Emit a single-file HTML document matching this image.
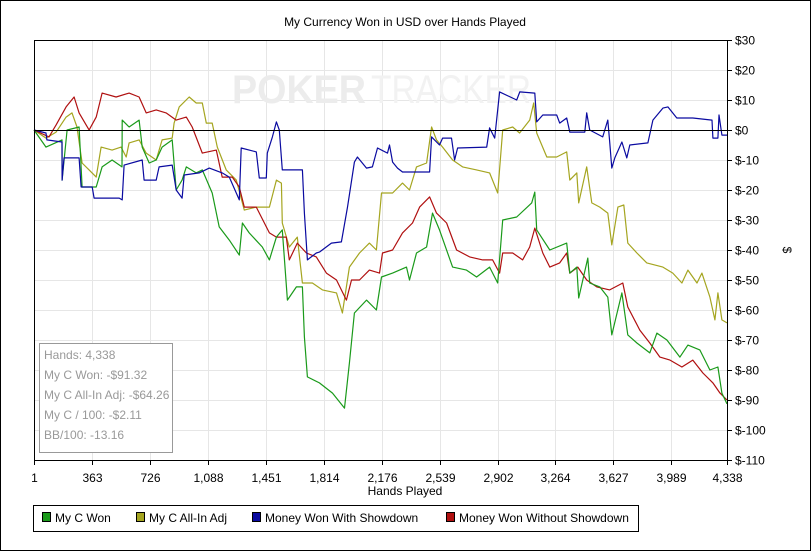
<!DOCTYPE html>
<html><head><meta charset="utf-8"><style>
html,body{margin:0;padding:0;background:#fff}
svg{display:block;font-family:"Liberation Sans",Arial,sans-serif}
</style></head><body>
<svg id="chart" width="811" height="551" viewBox="0 0 811 551" xmlns="http://www.w3.org/2000/svg">
<rect x="0.5" y="0.5" width="810" height="550" fill="#fff" stroke="#000"/>
<text x="405" y="26" text-anchor="middle" font-size="12" fill="#000">My Currency Won in USD over Hands Played</text>
<g id="grid"></g>
<g><text x="232" y="103" font-size="40" font-weight="bold" fill="#ececec" textLength="134" lengthAdjust="spacingAndGlyphs">POKER</text><text x="371" y="103" font-size="40" fill="#f2f2f2" textLength="160" lengthAdjust="spacingAndGlyphs">TRACKER</text></g>
<g id="series"></g>
<g id="axes"></g>
<text x="405" y="495" text-anchor="middle" font-size="12">Hands Played</text>
<text transform="translate(783,250) rotate(90)" text-anchor="middle" font-size="12">$</text>
<g>
<rect x="39.5" y="343.5" width="133" height="109" fill="#fff" stroke="#999"/>
<g font-size="12" fill="#999">
<text x="44" y="359">Hands: 4,338</text>
<text x="44" y="379">My C Won: -$91.32</text>
<text x="44" y="399">My C All-In Adj: -$64.26</text>
<text x="44" y="419">My C / 100: -$2.11</text>
<text x="44" y="439">BB/100: -13.16</text>
</g></g>
<g>
<rect x="33.5" y="505.5" width="605" height="26" fill="#fff" stroke="#000"/>
<g font-size="12">
<g><rect x="42.5" y="512.5" width="8" height="9" fill="#1a9a1a" stroke="#000"/><text x="55" y="522">My C Won</text></g>
<g><rect x="136.5" y="512.5" width="8" height="9" fill="#a5a520" stroke="#000"/><text x="149" y="522">My C All-In Adj</text></g>
<g><rect x="252.5" y="512.5" width="8" height="9" fill="#0a0aa0" stroke="#000"/><text x="265" y="522">Money Won With Showdown</text></g>
<g><rect x="446.5" y="512.5" width="8" height="9" fill="#b01010" stroke="#000"/><text x="459" y="522">Money Won Without Showdown</text></g>
</g></g>
</svg>
<script>
const xTicks = [1,363,726,1088,1451,1814,2176,2539,2902,3264,3627,3989,4338];
const xTickLabels = ["1","363","726","1,088","1,451","1,814","2,176","2,539","2,902","3,264","3,627","3,989","4,338"];
const yTicks = [30,20,10,0,-10,-20,-30,-40,-50,-60,-70,-80,-90,-100,-110];
const yTickLabels = ["$30","$20","$10","$0","$-10","$-20","$-30","$-40","$-50","$-60","$-70","$-80","$-90","$-100","$-110"];

const greenHands = [1,76,176,177,208,283,302,390,427,490,552,553,596,659,678,722,766,803,866,891,928,954,1016,1054,1116,1160,1223,1286,1305,1348,1430,1474,1518,1555,1587,1643,1681,1693,1712,1787,1869,1944,1975,2006,2082,2144,2176,2245,2332,2351,2395,2458,2495,2539,2621,2708,2771,2852,2903,2934,3022,3116,3135,3147,3229,3335,3354,3398,3410,3467,3479,3542,3592,3617,3680,3717,3774,3855,3899,3962,4043,4093,4168,4231,4281,4306,4338];
const greenValues = [0,-5.7,-3.3,-16.7,0,1,-19,-19,-12.3,-10,-12.3,3.3,1,3.3,-5.7,-11,-10,-5.7,-3.3,-20,-16.7,-12.3,-14.3,-13.3,-21,-32.3,-36.7,-41.7,-31,-34.3,-39,-43.3,-35.7,-33.3,-56.7,-52.3,-52.3,-69,-82.3,-84.3,-87.7,-92.7,-77.7,-61,-56.7,-60,-49,-47.7,-45.7,-50,-41,-39,-27.7,-33.3,-45.7,-46.7,-49,-45.7,-51,-30,-29,-24.3,-20.7,-33.3,-40,-37.7,-47.7,-45.7,-56,-42.7,-51,-52.3,-55.7,-68.3,-54.3,-68.3,-71,-74.3,-67.7,-70,-75.7,-71.7,-73.3,-80,-79,-87.7,-91.3];

const yellowHands = [1,76,139,202,239,270,302,346,390,421,490,546,578,596,659,703,766,803,866,878,910,972,1016,1054,1079,1116,1148,1204,1267,1317,1392,1474,1518,1549,1555,1599,1649,1681,1743,1806,1894,1931,1975,2038,2100,2144,2176,2245,2307,2351,2395,2458,2489,2520,2558,2621,2683,2771,2852,2903,2934,2997,3040,3103,3128,3147,3210,3272,3335,3354,3398,3410,3460,3492,3542,3592,3617,3655,3692,3717,3774,3836,3937,3999,4056,4093,4150,4181,4231,4262,4281,4306,4338];
const yellowValues = [0,-2.7,-0.7,4.3,5.7,1,-11,-13.3,-15.7,-5.7,-6.7,-5.7,-9,-4.3,-3.3,-7.7,-10,-3.3,-2.7,2.3,7.7,11,9,9,2.3,2.3,-5.7,-13.3,-16.7,-26.7,-25.7,-25.7,-16.7,-17.7,-31,-39,-35.7,-51,-51,-53.3,-54.3,-61,-45.7,-41,-37.7,-40,-21,-21,-17.7,-20,-12.3,-11,1,-3.3,-5.7,-10,-12.3,-13.3,-14.3,-21,0,1,-1,3.3,9,-1,-9,-9,-7.3,-16.7,-14.3,-24.3,-12.3,-24.3,-25.7,-27.7,-38.3,-25.7,-25,-37.7,-41,-44.3,-45.7,-47.7,-51,-46.7,-51,-47.7,-55.7,-63.3,-54.3,-63.3,-64.3];

const blueHands = [1,76,82,176,177,189,283,296,365,377,534,553,565,678,690,766,784,866,891,928,941,1035,1098,1179,1223,1286,1298,1392,1411,1455,1461,1493,1518,1536,1555,1681,1693,1712,1768,1787,1862,1925,1963,2006,2025,2082,2119,2151,2213,2226,2245,2276,2307,2477,2489,2539,2558,2614,2633,2652,2834,2852,2884,2915,3022,3041,3135,3147,3185,3272,3291,3335,3354,3417,3448,3460,3479,3560,3592,3604,3617,3636,3680,3711,3730,3843,3874,3937,3968,4024,4124,4244,4250,4281,4288,4306,4338];
const blueValues = [0,-1,-3.3,-4,-16.7,-9.3,-9.3,-19,-19,-22.7,-22.7,-23.3,-11.7,-10,-16.7,-16.7,-12.3,-11.7,-20,-22.7,-15,-14.3,-12.7,-14.3,-15.7,-23.3,-6,-7.3,-16,-16,-7.7,-2.3,2.7,0,-13.3,-13.3,-27.7,-43.3,-41,-40.7,-37.7,-37.3,-25.7,-10.7,-9,-12.7,-12.3,-6,-7.7,-5,-10.7,-12.7,-14,-14,-2.3,-5,-2.7,-2.7,-10,-6,-5.7,0.7,-2.7,12.7,10,12.7,12.3,2.7,5,5,2.3,4,-0.7,-0.7,-0.7,5.7,0,-2.3,3.3,-4,-12.7,-9.3,-4,-9.3,-5,-4.3,3.3,7.3,7.7,4,4,3.3,-2.7,-2.7,5,-1.7,-1.7];

const redHands = [1,95,139,202,252,283,346,390,427,515,596,659,703,766,828,891,954,991,1054,1142,1179,1242,1286,1317,1392,1474,1518,1580,1599,1649,1706,1768,1831,1894,1956,1988,2038,2100,2163,2182,2245,2307,2370,2414,2477,2520,2583,2646,2727,2809,2871,2915,2934,2997,3059,3103,3135,3185,3229,3291,3335,3354,3404,3460,3523,3604,3686,3717,3792,3855,3918,3981,4056,4124,4187,4250,4294,4338];
const redValues = [0,-2.3,1.7,7.7,11,5.7,0,4.3,12.3,11,12.3,11,5.7,6.7,5.7,3.3,4.3,1,-7.7,-6.7,-15.7,-15.7,-19,-25.7,-25.7,-34.3,-35.7,-35.7,-43.3,-37.7,-41,-42.3,-47.7,-50,-56.7,-50,-50,-46.7,-47.7,-41,-40,-34.3,-31,-25.7,-22.3,-27.7,-31,-40,-42.3,-43.3,-43.3,-47.7,-41,-41,-43.3,-39,-32.7,-41,-45.7,-44.3,-41,-47.7,-45.7,-50,-52.3,-53.3,-51,-59,-66.7,-71,-75.7,-76.7,-79,-76.7,-81,-84.3,-87.7,-90];

const NS = "http://www.w3.org/2000/svg";
const L = 34, R = 727, T = 40, B = 460;
const xMin = 1, xMax = 4338, yMin = -110, yMax = 30;
function xs(h){ return L + (h - xMin) / (xMax - xMin) * (R - L); }
function ys(v){ return T + (yMax - v) / (yMax - yMin) * (B - T); }
function mk(tag, attrs, parent){ const e = document.createElementNS(NS, tag); for (const k in attrs) e.setAttribute(k, attrs[k]); parent.appendChild(e); return e; }

const grid = document.getElementById('grid');
const axes = document.getElementById('axes');
xTicks.forEach((t, i) => {
  const x = Math.round(xs(t)) + 0.5;
  const gl = mk('line', {x1:x, x2:x, y1:T, y2:B, stroke:'#e6e6e6'}, grid);
  
  
  const tk = mk('line', {x1:x, x2:x, y1:B, y2:B+5, stroke:'#000'}, axes);
  
  
  const lb = mk('text', {x:x, y:B+22, 'text-anchor':'middle', 'font-size':12}, axes);
  lb.textContent = xTickLabels[i];
  
  
});
yTicks.forEach((t, i) => {
  const y = Math.round(ys(t)) + 0.5;
  const gl = mk('line', {x1:L, x2:R, y1:y, y2:y, stroke:'#e6e6e6'}, grid);
  
  
  const tk = mk('line', {x1:R, x2:R+5, y1:y, y2:y, stroke:'#000'}, axes);
  
  
  const lb = mk('text', {x:R+8, y:y+4, 'font-size':12}, axes);
  lb.textContent = yTickLabels[i];
  
  
});
const frame = mk('rect', {x:L+0.5, y:T+0.5, width:R-L, height:B-T, fill:'none', stroke:'#000'}, axes);


const zl = mk('line', {x1:L, x2:R, y1:Math.round(ys(0))+0.5, y2:Math.round(ys(0))+0.5, stroke:'#000'}, axes);



const sg = document.getElementById('series');
function drawLine(hands, vals, color, name){
  const d = hands.map((h, i) => (i ? 'L' : 'M') + xs(h).toFixed(1) + ' ' + ys(vals[i]).toFixed(1)).join(' ');
  const p = mk('path', {d:d, fill:'none', stroke:color, 'stroke-width':1.2, 'stroke-linejoin':'round'}, sg);
  
  
}
drawLine(yellowHands, yellowValues, '#a5a520', 'series-all-in-adj');
drawLine(redHands, redValues, '#b01010', 'series-without-showdown');
drawLine(greenHands, greenValues, '#1a9a1a', 'series-my-c-won');
drawLine(blueHands, blueValues, '#0a0aa0', 'series-with-showdown');
</script>
</body></html>
